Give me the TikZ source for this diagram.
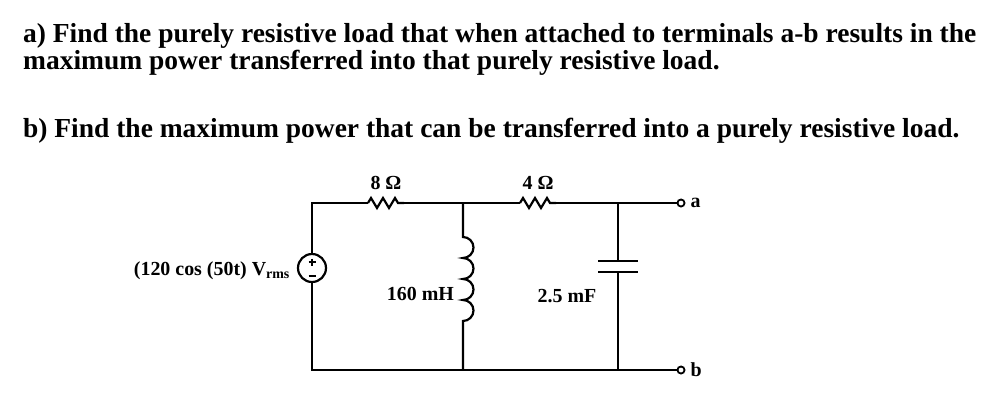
\documentclass[tikz,border=0pt]{standalone}
\usepackage{fontspec}
\setmainfont{Liberation Serif}
\usetikzlibrary{decorations.pathmorphing}
\begin{document}
\begin{tikzpicture}[x=1bp,y=-1bp,line width=2.2bp,
  txt/.style={anchor=base west,inner sep=0pt,font=\bfseries\fontsize{27.6}{30}\selectfont},
  lab/.style={inner sep=1pt,font=\bfseries\fontsize{20}{22}\selectfont},
  term/.style={circle,draw,fill=white,line width=1.8bp,inner sep=2.5bp},
  res/.style={decorate,decoration={zigzag,segment length=12bp,amplitude=5bp,pre length=0bp,post length=0bp}}]
\useasboundingbox (0,0) rectangle (1007,404);
\node[txt] (t1) at (22,42) {a) Find the purely resistive load that when attached to terminals a-b results in the};
\node[txt] (t2) at (22,69) {maximum power transferred into that purely resistive load.};
\node[txt] (t3) at (22,137) {b) Find the maximum power that can be transferred into a purely resistive load.};
% nodes
\coordinate (tl) at (312,203);
\coordinate (bl) at (312,370);
\coordinate (tm) at (463,203);
\coordinate (bm) at (463,370);
\coordinate (tc) at (618,203);
\coordinate (bc) at (618,370);
\node[term] (a) at (681,203) {};
\node[term] (b) at (681,370) {};
\node[lab,anchor=west] (la) at ([xshift=3bp]a.east) {a};
\node[lab,anchor=west] (lb) at ([xshift=3bp]b.east) {b};
\node[circle,draw,minimum size=28bp,inner sep=0pt] (src) at (312,268) {};
\draw[line width=1.6bp] (308.5,262) -- (315.5,262) (312,258.5) -- (312,265.5);
\draw[line width=1.6bp] (308.5,276) -- (315.5,276);
% wires
\draw (src.north) -- (tl) -- (368,203);
\draw[res] (368,203) -- (404,203);
\draw (404,203) -- (tm) -- (520,203);
\draw[res] (520,203) -- (556,203);
\draw (556,203) -- (tc) -- (a);
\draw (src.south) -- (bl) -- (bm) -- (bc) -- (b);
% inductor
\draw (tm) -- (463,237)
  arc[start angle=-90,end angle=90,radius=10.5]
  arc[start angle=-90,end angle=90,radius=10.5]
  arc[start angle=-90,end angle=90,radius=10.5]
  arc[start angle=-90,end angle=90,radius=10.5] -- (bm);
% capacitor
\draw (tc) -- (618,261);
\draw (618,272) -- (bc);
\draw (598,261) -- (638,261);
\draw (598,272) -- (638,272);
% labels
\node[lab] (r1) at (386,183) {8 Ω};
\node[lab] (r2) at (538,183) {4 Ω};
\node[lab,anchor=east] (lL) at (456,294) {160 mH};
\node[lab] (lC) at (567,296) {2.5 mF};
\node[lab,anchor=east] (lV) at (292,271) {(120 cos (50t) V\textsubscript{rms}};
\end{tikzpicture}
\end{document}
